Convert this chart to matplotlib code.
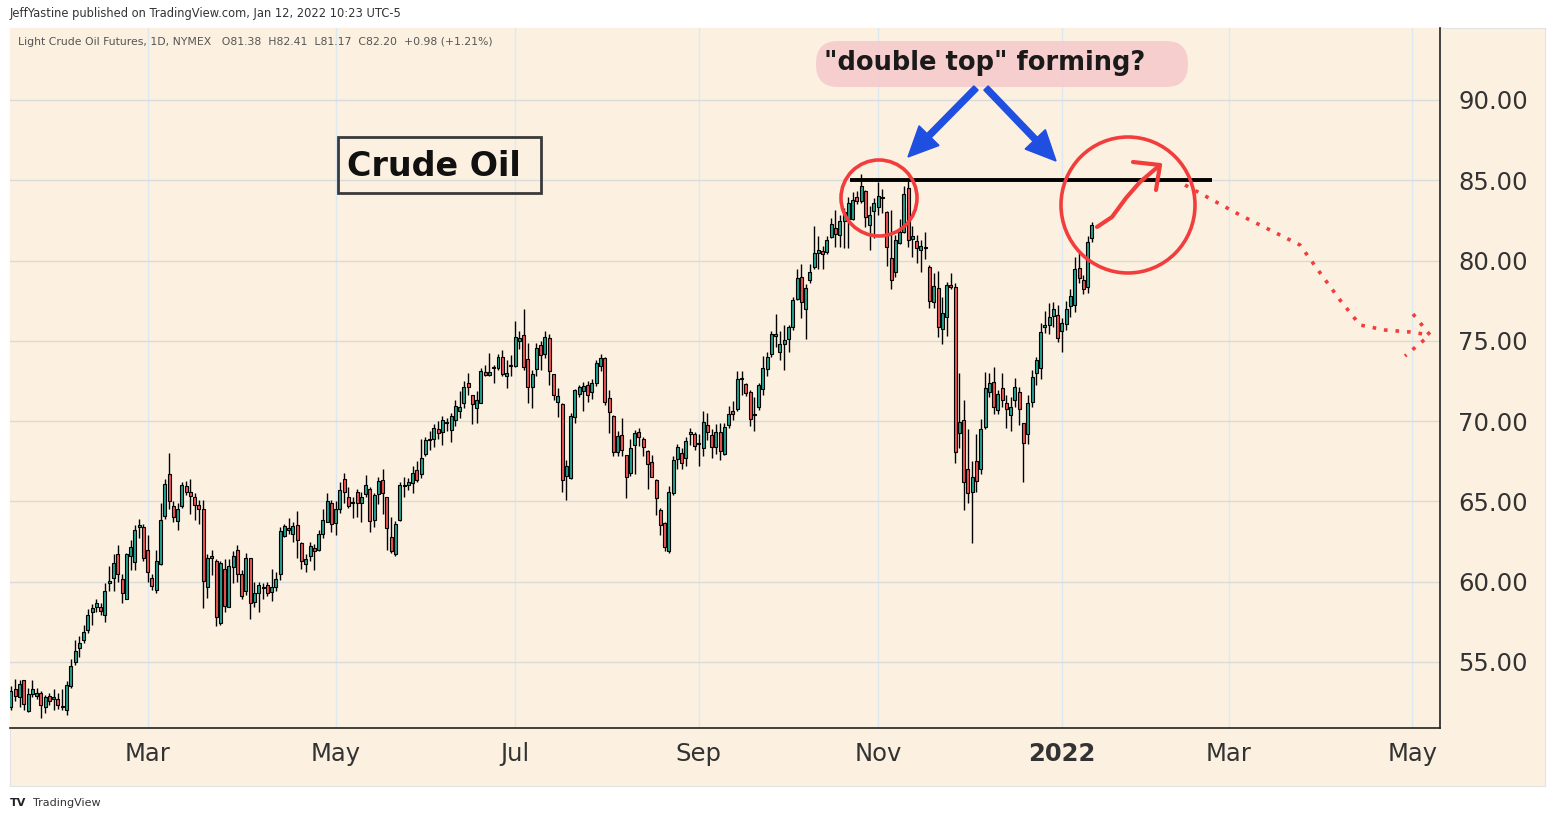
import matplotlib
matplotlib.use("Agg")
import matplotlib.pyplot as plt
from matplotlib.patches import Rectangle, Ellipse, FancyArrow, FancyBboxPatch
import numpy as np
import pandas as pd

# Daily OHLC, Light Crude Oil Futures (NYMEX), 12 Jan 2021 .. 12 Jan 2022
opens = [
    52.2, 53.3, 52.85, 53.85, 51.95, 53.0, 52.9, 53.1, 52.2, 52.9, 52.7, 52.7, 52.25,
    52.0, 53.5, 55.0, 55.9, 56.4, 57.0, 58.1, 58.4, 58.4, 57.9, 59.95, 60.2, 61.7, 60.15, 58.95, 61.6, 61.25, 63.4, 63.4,
    62.0, 60.2, 59.5, 61.1, 64.1, 66.7, 64.7, 63.8, 64.7, 65.97, 65.57, 65.3, 64.75, 64.5, 59.65, 61.5, 61.3, 57.4, 60.8, 58.45, 60.9, 61.95, 60.45,
    59.45, 61.5, 58.75, 59.3, 59.6, 59.8, 59.35, 59.65, 60.45, 62.85, 63.2, 63.0, 63.5, 62.4, 61.1, 61.6, 62.1, 61.95, 63.0, 63.7, 64.9,
    63.65, 64.5, 66.4, 65.25, 64.88, 65.6, 64.9, 65.45, 65.75, 63.85, 65.45, 66.35, 65.3, 62.8, 61.7, 63.85, 66.0, 66.0, 66.15, 66.95,
    66.7, 67.95, 68.8, 68.9, 69.5, 69.3, 69.9, 69.45, 70.1, 70.6, 71.15, 72.4, 71.6, 70.8, 71.1, 73.05, 72.9, 73.3, 73.3, 74.0, 72.78, 73.45,
    73.46, 75.02, 75.37, 73.85, 72.15, 73.23, 74.75, 74.17, 75.16, 72.92, 71.22, 71.05, 66.6, 66.45, 70.24, 71.7, 71.9, 72.26, 71.84, 72.36, 73.44,
    73.92, 71.45, 70.3, 68.05, 69.14, 67.87, 66.8, 68.52, 69.35, 68.87, 68.14, 67.44, 66.34, 64.47, 63.64, 61.94, 65.5, 67.63, 68.04, 67.73, 69.31, 69.19,
    68.55, 68.31, 69.73, 69.14, 68.38, 69.35, 67.96, 69.77, 70.6, 70.74, 72.6, 72.3, 71.8, 70.35, 70.87, 71.99, 73.23, 74.17, 75.43, 74.33, 74.79,
    75.1, 75.89, 77.59, 79.0, 76.96, 78.79, 79.58, 80.45, 80.6, 80.56, 81.45, 82.0, 81.59, 82.47, 82.57, 82.57, 83.94, 83.71, 84.35, 82.22, 83.11,
    83.32, 83.95, 83.05, 80.14, 79.31, 81.12, 81.8, 84.5, 81.35, 81.22, 80.66, 80.85, 79.58, 77.44, 78.27, 75.72, 76.47, 78.46, 78.33, 69.24, 70.08,
    67.0, 65.6, 67.52, 67.0, 69.66, 71.84, 72.46, 70.7, 72.05, 71.12, 70.39, 71.32, 71.8, 69.87, 69.18, 71.22, 73.02, 73.33, 75.89, 75.99, 76.57, 76.61,
    75.64, 76.05, 77.17, 77.23, 79.56, 78.79, 78.38, 81.38,
]
highs = [
    53.5, 53.95, 53.9, 53.9, 53.4, 53.9, 53.4, 53.2, 52.95, 53.1, 53.3, 53.05, 53.3,
    53.8, 55.2, 56.4, 56.6, 57.3, 58.3, 58.6, 58.9, 58.7, 59.9, 60.95, 61.7, 62.3, 60.5, 61.8, 62.6, 63.5, 63.9, 63.6,
    62.9, 60.5, 62.0, 64.9, 66.4, 68.0, 65.0, 64.9, 66.2, 66.3, 66.4, 65.5, 65.1, 65.1, 61.7, 62.0, 61.4, 61.3, 61.4, 61.4, 61.9, 62.3, 60.7,
    61.8, 61.5, 60.0, 60.0, 59.9, 60.0, 60.8, 60.6, 63.4, 63.6, 63.95, 63.7, 64.4, 62.5, 61.7, 62.45, 62.35, 63.2, 64.5, 65.5, 65.1,
    65.0, 66.2, 66.75, 65.9, 65.3, 65.8, 65.6, 66.65, 65.9, 65.5, 66.5, 67.0, 65.3, 64.0, 63.8, 66.2, 66.5, 66.45, 67.2, 67.5,
    68.9, 69.0, 69.4, 69.8, 70.0, 70.3, 70.2, 70.5, 71.3, 71.85, 72.5, 73.0, 71.6, 71.9, 73.3, 73.5, 74.25, 73.5, 74.2, 74.45, 73.8, 74.1,
    76.26, 75.6, 76.98, 74.85, 73.2, 74.85, 75.0, 75.6, 75.4, 72.92, 72.05, 71.1, 67.6, 70.5, 72.0, 72.25, 72.45, 72.5, 72.6, 73.8, 74.2,
    74.0, 71.95, 70.35, 69.4, 70.2, 67.9, 68.9, 69.45, 69.6, 69.0, 68.2, 67.9, 66.4, 64.6, 63.7, 65.95, 67.8, 68.6, 68.3, 69.0, 69.6, 69.35,
    69.2, 70.65, 70.5, 69.5, 69.8, 69.9, 69.9, 70.95, 71.25, 73.13, 73.1, 72.4, 71.95, 71.5, 72.35, 74.07, 74.3, 75.6, 76.67, 75.6, 76.0,
    76.0, 77.75, 79.48, 79.78, 78.55, 79.78, 82.18, 81.5, 80.9, 81.55, 82.65, 83.15, 82.84, 83.3, 83.94, 84.25, 84.3, 85.41, 84.4, 83.4, 83.87,
    84.9, 84.44, 83.1, 83.15, 81.6, 82.6, 84.65, 84.97, 82.15, 81.6, 81.28, 81.8, 79.75, 79.2, 79.35, 77.75, 78.69, 79.2, 78.6, 73.0, 71.3,
    69.5, 67.5, 69.2, 70.13, 73.04, 72.98, 73.35, 71.94, 72.98, 71.63, 71.5, 72.7, 72.1, 69.9, 71.6, 73.19, 74.02, 76.1, 76.88, 77.34, 77.4, 77.24,
    76.4, 77.5, 78.2, 80.2, 80.45, 79.1, 81.5, 82.41,
]
lows = [
    52.0, 52.6, 52.2, 52.0, 51.9, 52.8, 52.7, 51.5, 51.8, 52.3, 52.0, 52.05, 52.0,
    51.7, 53.4, 54.8, 55.3, 56.2, 56.8, 57.3, 58.1, 57.9, 57.5, 59.4, 59.45, 60.0, 58.7, 58.9, 60.7, 60.7, 62.7, 61.3,
    60.0, 59.5, 59.3, 61.05, 63.9, 64.5, 63.7, 63.2, 64.6, 65.4, 64.2, 63.85, 63.6, 58.35, 59.0, 60.4, 57.25, 57.3, 58.1, 58.4, 59.95, 60.0, 58.9,
    59.2, 57.7, 58.4, 58.1, 58.9, 59.1, 58.8, 59.4, 60.1, 62.8, 62.95, 62.5, 61.45, 60.8, 60.6, 61.3, 60.7, 61.9, 62.7, 63.7, 63.1,
    62.9, 64.3, 64.9, 64.6, 63.95, 64.0, 63.7, 65.3, 63.1, 63.4, 64.85, 64.2, 62.0, 61.8, 61.6, 63.8, 65.3, 65.7, 65.5, 66.2,
    66.45, 67.8, 68.2, 68.4, 68.9, 68.5, 69.4, 68.7, 69.7, 70.2, 70.8, 71.6, 69.8, 69.9, 71.1, 72.8, 72.8, 72.4, 73.2, 72.8, 72.05, 72.8,
    73.4, 74.5, 73.2, 71.1, 70.8, 72.8, 73.2, 73.9, 72.25, 71.3, 70.25, 65.6, 65.1, 66.4, 69.9, 71.5, 70.6, 71.2, 71.4, 72.2, 73.1,
    71.0, 69.25, 67.85, 67.8, 67.8, 65.2, 66.6, 66.7, 68.45, 67.8, 65.75, 66.5, 64.15, 62.9, 61.9, 61.8, 65.4, 67.0, 67.0, 67.2, 68.5, 68.2,
    67.2, 67.85, 68.8, 67.7, 67.96, 67.6, 67.9, 69.6, 70.1, 70.6, 71.6, 71.55, 69.7, 69.4, 70.7, 71.65, 72.8, 74.0, 74.6, 73.8, 73.2,
    74.3, 75.7, 77.55, 76.4, 75.1, 78.6, 79.5, 79.45, 79.45, 80.4, 81.4, 80.83, 80.83, 80.8, 80.8, 82.5, 83.5, 83.6, 82.1, 80.65, 81.43,
    82.85, 82.94, 79.66, 78.25, 78.99, 81.0, 81.7, 80.83, 80.25, 79.83, 79.31, 80.08, 77.05, 77.05, 75.26, 74.8, 75.3, 78.2, 67.4, 68.3, 64.45,
    64.9, 62.43, 65.6, 66.7, 69.5, 71.5, 70.43, 70.43, 70.9, 69.55, 69.4, 70.9, 69.76, 66.19, 68.6, 70.9, 72.25, 72.6, 75.5, 75.43, 75.85, 74.95,
    74.3, 75.7, 76.5, 76.8, 78.6, 77.9, 78.0, 81.17,
]
closes = [
    53.2, 52.9, 53.6, 52.4, 53.0, 53.3, 53.1, 52.3, 52.8, 52.6, 52.85, 52.3, 52.2,
    53.55, 54.75, 55.7, 56.2, 56.85, 57.95, 58.35, 58.7, 58.2, 59.45, 60.05, 61.15, 60.5, 59.3, 61.7, 62.15, 63.2, 63.5, 61.5,
    60.6, 59.75, 61.3, 63.85, 66.1, 65.05, 64.0, 64.5, 66.0, 65.6, 65.36, 64.8, 64.5, 60.05, 61.45, 61.55, 57.8, 61.15, 58.5, 60.95, 61.6, 60.5, 59.1,
    61.45, 58.65, 59.3, 59.8, 59.62, 59.3, 59.7, 60.15, 63.15, 63.45, 63.33, 63.45, 62.6, 61.3, 61.4, 62.2, 61.9, 62.95, 63.85, 65.0, 63.6,
    64.5, 65.7, 65.6, 64.7, 64.92, 64.9, 65.25, 66.05, 63.8, 65.4, 66.25, 65.5, 63.35, 61.9, 63.6, 66.05, 65.95, 66.2, 66.8, 66.35,
    67.7, 68.83, 68.82, 69.6, 69.25, 70.05, 69.97, 70.3, 70.95, 70.87, 72.1, 72.1, 71.05, 71.3, 73.1, 72.88, 73.05, 73.32, 74.0, 72.94, 72.98, 73.5,
    75.22, 75.16, 73.36, 72.15, 72.94, 74.54, 74.12, 75.23, 73.13, 71.63, 71.55, 66.34, 67.2, 70.3, 71.94, 72.1, 72.2, 71.64, 72.36, 73.6, 73.92,
    71.22, 70.56, 68.1, 69.08, 68.2, 66.5, 68.3, 69.24, 69.04, 68.41, 67.31, 66.55, 65.2, 63.5, 62.15, 65.6, 67.58, 68.37, 67.42, 68.77, 69.19, 68.48,
    68.59, 69.97, 69.31, 68.38, 69.31, 68.17, 69.66, 70.43, 70.43, 72.61, 72.62, 71.78, 70.12, 70.45, 72.22, 73.3, 73.98, 75.41, 75.27, 74.81, 75.06,
    75.85, 77.55, 78.9, 77.44, 78.27, 79.31, 80.49, 80.66, 80.39, 81.28, 82.26, 81.64, 82.47, 83.0, 83.6, 83.77, 83.73, 84.65, 82.69, 82.84, 83.6,
    84.02, 83.88, 80.83, 78.79, 81.28, 81.8, 84.15, 81.28, 81.55, 80.76, 80.91, 80.78, 77.5, 78.42, 75.89, 76.72, 78.48, 78.38, 68.1, 69.93, 66.19,
    65.55, 66.5, 66.24, 69.49, 72.05, 72.36, 70.9, 71.67, 71.32, 70.74, 70.87, 72.11, 70.74, 68.62, 71.11, 72.73, 73.81, 75.53, 75.99, 76.5, 76.97, 75.2,
    76.09, 76.99, 77.81, 79.45, 78.9, 78.21, 81.18, 82.2,
]
price_ticks = [55, 60, 65, 70, 75, 80, 85, 90]
holidays = ['2021-01-18', '2021-02-15', '2021-04-02', '2021-05-31', '2021-07-05',
            '2021-09-06', '2021-11-25', '2021-12-24', '2022-01-17', '2022-02-21',
            '2022-04-15']
resistance = 85.0

assert len(opens) == len(highs) == len(lows) == len(closes)

# trading-day calendar (bar index axis like TradingView), with room to the right
days = pd.bdate_range('2021-01-12', periods=len(closes) + 90, freq='C', holidays=holidays)
tick_pos, tick_lab = [], []
for i in range(1, len(days)):
    if days[i].month != days[i - 1].month and days[i].month in (1, 3, 5, 7, 9, 11):
        tick_pos.append(i)
        tick_lab.append(str(days[i].year) if days[i].month == 1 else days[i].strftime('%b'))

W, H = 1554, 821
BG = '#fcf1e0'
UP = '#22a08f'
DOWN = '#ef5350'
RED = '#f23d3d'

fig = plt.figure(figsize=(W / 100, H / 100), dpi=100)
fig.patch.set_facecolor('white')

def fbox(x0, y0, x1, y1):
    return [x0 / W, 1 - y1 / H, (x1 - x0) / W, (y1 - y0) / H]

# chart pane background (behind everything)
bg = fig.add_axes(fbox(10, 28, 1545, 786), zorder=-5)
bg.set_facecolor(BG)
bg.set_xticks([]); bg.set_yticks([])
for s in bg.spines.values():
    s.set_color('#e3e3e3')

ax = fig.add_axes(fbox(10, 28, 1440, 728), zorder=1)
ax.set_facecolor(BG)
x = np.arange(len(closes))
o = np.array(opens); h = np.array(highs); l = np.array(lows); c = np.array(closes)
up = c >= o
body_lo = np.minimum(o, c)
body_h = np.maximum(np.abs(c - o), 0.07)
ax.vlines(x, l, h, color='black', lw=1.0, zorder=2)
ax.bar(x, body_h, bottom=body_lo, width=0.7, color=np.where(up, UP, DOWN),
       edgecolor='black', linewidth=0.8, zorder=3)

ax.set_xlim(-0.23, 334.5)
ax.set_ylim(50.89, 94.48)
ax.set_yticks(price_ticks)
ax.set_yticklabels([f'{v:.2f}' for v in price_ticks])
ax.yaxis.tick_right()
ax.set_xticks(tick_pos)
ax.set_xticklabels(tick_lab)
for t in ax.get_xticklabels():
    if t.get_text().isdigit():
        t.set_fontweight('bold')
ax.tick_params(axis='y', length=0, pad=13, labelsize=17.5, labelcolor='#333333')
ax.tick_params(axis='x', length=0, pad=10, labelsize=17.5, labelcolor='#333333')
ax.grid(axis='y', color='#dadada', lw=1)
ax.grid(axis='x', color='#dce8f2', lw=1)
ax.set_axisbelow(True)
for s in ['top', 'left']:
    ax.spines[s].set_visible(False)
ax.spines['right'].set_color('#222222')
ax.spines['bottom'].set_color('#222222')
ax.spines['right'].set_linewidth(1.2)
ax.spines['bottom'].set_linewidth(1.2)

# resistance line
ax.hlines(resistance, 196.4, 281.1, color='black', lw=2.8, zorder=4)

# overlay in pixel coordinates for the hand drawn annotations
ov = fig.add_axes([0, 0, 1, 1], facecolor='none', zorder=5)
ov.set_xlim(0, W); ov.set_ylim(H, 0)
ov.axis('off')

ov.text(10, 14, 'JeffYastine published on TradingView.com, Jan 12, 2022 10:23 UTC-5',
        fontsize=8.3, color='#333333', va='center', ha='left')
ov.text(18, 42, 'Light Crude Oil Futures, 1D, NYMEX   O81.38  H82.41  L81.17  C82.20  +0.98 (+1.21%)',
        fontsize=7.8, color='#555555', va='center', ha='left')
ov.text(10, 803, 'TV', fontsize=8, fontweight='bold', color='#222222', va='center', ha='left')
ov.text(33, 803, 'TradingView', fontsize=8, color='#333333', va='center', ha='left')

# "Crude Oil" box
ov.add_patch(Rectangle((338, 137), 203, 56, facecolor='none', edgecolor='#3a3a3a', lw=2))
ov.text(434, 166, 'Crude Oil', fontsize=24, fontweight='bold', color='#111111', ha='center', va='center')

# highlighted question (marker-like blob)
ov.add_patch(FancyBboxPatch((822, 47), 360, 34, boxstyle='round,pad=6,rounding_size=22',
                            facecolor='#f5c6c9', edgecolor='none', alpha=0.8))
ov.text(985, 63, '"double top" forming?', fontsize=18.5, fontweight='bold', color='#1a1a1a',
        ha='center', va='center')

# blue arrows
ov.add_patch(FancyArrow(976, 88, -68, 69, width=6, head_width=28, head_length=30,
                        length_includes_head=True, color='#1f4fe0'))
ov.add_patch(FancyArrow(986, 88, 70, 73, width=6, head_width=28, head_length=30,
                        length_includes_head=True, color='#1f4fe0'))

# red circles
ov.add_patch(Ellipse((879, 198), 76, 76, facecolor='none', edgecolor=RED, lw=2.6))
ov.add_patch(Ellipse((1128, 205), 134, 136, facecolor='none', edgecolor=RED, lw=2.6))

# red hand drawn arrow inside the right circle
ov.plot([1097, 1112, 1126, 1140, 1160], [227, 217, 198, 182, 165], color=RED, lw=3,
        solid_capstyle='round', solid_joinstyle='round')
ov.plot([1133, 1160, 1156], [162, 165, 190], color=RED, lw=3, solid_capstyle='round',
        solid_joinstyle='round')

# dotted projection
ov.plot([1185, 1240, 1300, 1318, 1340, 1360, 1385, 1410, 1430],
        [185, 215, 245, 270, 300, 325, 330, 332, 335], color=RED, lw=2.6, ls=(0, (1, 2.2)))
ov.plot([1413, 1430, 1405], [314, 335, 356], color=RED, lw=2.6, ls=(0, (1, 2.2)))

fig.savefig('out.png', dpi=100, facecolor='white')
